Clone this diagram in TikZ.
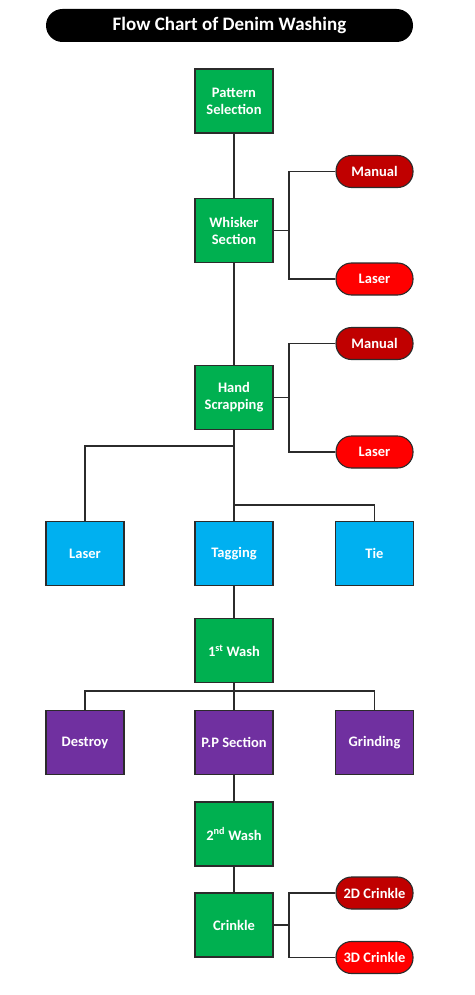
\documentclass[tikz,border=0pt]{standalone}
\usepackage{fontspec}
\setmainfont{Carlito}
\definecolor{cgreen}{HTML}{00B050}
\definecolor{cdred}{HTML}{C00000}
\definecolor{cred}{HTML}{FF0000}
\definecolor{cblue}{HTML}{00B0F0}
\definecolor{cpurple}{HTML}{7030A0}
\definecolor{cedge}{HTML}{2B2B2B}
\begin{document}
\begin{tikzpicture}[x=1pt,y=-1pt,
  box/.style={draw=cedge,line width=1.1pt,minimum width=78pt,minimum height=64pt,align=center,
    text=white,font=\bfseries\fontsize{14.5}{17}\selectfont,inner sep=1pt},
  gbox/.style={box,fill=cgreen},
  bbox/.style={box,fill=cblue},
  pbox/.style={box,fill=cpurple},
  pill/.style={draw=cedge,line width=1.1pt,minimum width=77pt,minimum height=32pt,rounded corners=15.5pt,
    text=white,font=\bfseries\fontsize{14.5}{17}\selectfont,inner sep=1pt},
  dpill/.style={pill,fill=cdred},
  rpill/.style={pill,fill=cred},
  conn/.style={draw=cedge,line width=1.1pt}]
\useasboundingbox (0,0) rectangle (474,995);
\fill[white] (0,0) rectangle (474,995);
\node[fill=black,minimum width=367pt,minimum height=33pt,rounded corners=16.5pt,text=white,
  font=\bfseries\fontsize{19}{22}\selectfont,inner sep=0pt] (title) at (229.5,25.5) {Flow Chart of Denim Washing};
% main column
\node[gbox] (ps) at (234,101) {Pattern\\Selection};
\node[gbox] (ws) at (234,230.5) {Whisker\\Section};
\node[gbox] (hs) at (234,397.5) {Hand\\Scrapping};
\node[bbox] (lz) at (85,553.5) {Laser};
\node[bbox] (tg) at (234,553.5) {Tagging};
\node[bbox] (ti) at (374.5,553.5) {Tie};
\node[gbox] (w1) at (234,650.5) {1\textsuperscript{st} Wash};
\node[pbox] (de) at (85,742.5) {Destroy};
\node[pbox] (pp) at (234,742.5) {P.P Section};
\node[pbox] (gr) at (374.5,742.5) {Grinding};
\node[gbox] (w2) at (234,834) {2\textsuperscript{nd} Wash};
\node[gbox] (cr) at (234,925) {Crinkle};
% side pills
\node[dpill] (m1) at (374.5,171.5) {Manual};
\node[rpill] (l1) at (374.5,279) {Laser};
\node[dpill] (m2) at (374.5,343.5) {Manual};
\node[rpill] (l2) at (374.5,452) {Laser};
\node[dpill] (c2) at (374.5,893) {2D Crinkle};
\node[rpill] (c3) at (374.5,957.5) {3D Crinkle};
% junctions
\coordinate (j1) at (289,230.5);
\coordinate (j2) at (289,397.5);
\coordinate (j3) at (289,925);
\coordinate (jl) at (234,446);
\coordinate (jt) at (234,505);
\coordinate (jw) at (234,691);
% connectors
\draw[conn] (ps.south) -- (ws.north);
\draw[conn] (ws.south) -- (hs.north);
\draw[conn] (hs.south) -- (tg.north);
\draw[conn] (tg.south) -- (w1.north);
\draw[conn] (w1.south) -- (pp.north);
\draw[conn] (pp.south) -- (w2.north);
\draw[conn] (w2.south) -- (cr.north);
\draw[conn] (ws.east) -- (j1);
\draw[conn] (j1) |- (m1.west);
\draw[conn] (j1) |- (l1.west);
\draw[conn] (hs.east) -- (j2);
\draw[conn] (j2) |- (m2.west);
\draw[conn] (j2) |- (l2.west);
\draw[conn] (cr.east) -- (j3);
\draw[conn] (j3) |- (c2.west);
\draw[conn] (j3) |- (c3.west);
\draw[conn] (jl) -| (lz.north);
\draw[conn] (jt) -| (ti.north);
\draw[conn] (jw) -| (de.north);
\draw[conn] (jw) -| (gr.north);
\end{tikzpicture}
\end{document}
